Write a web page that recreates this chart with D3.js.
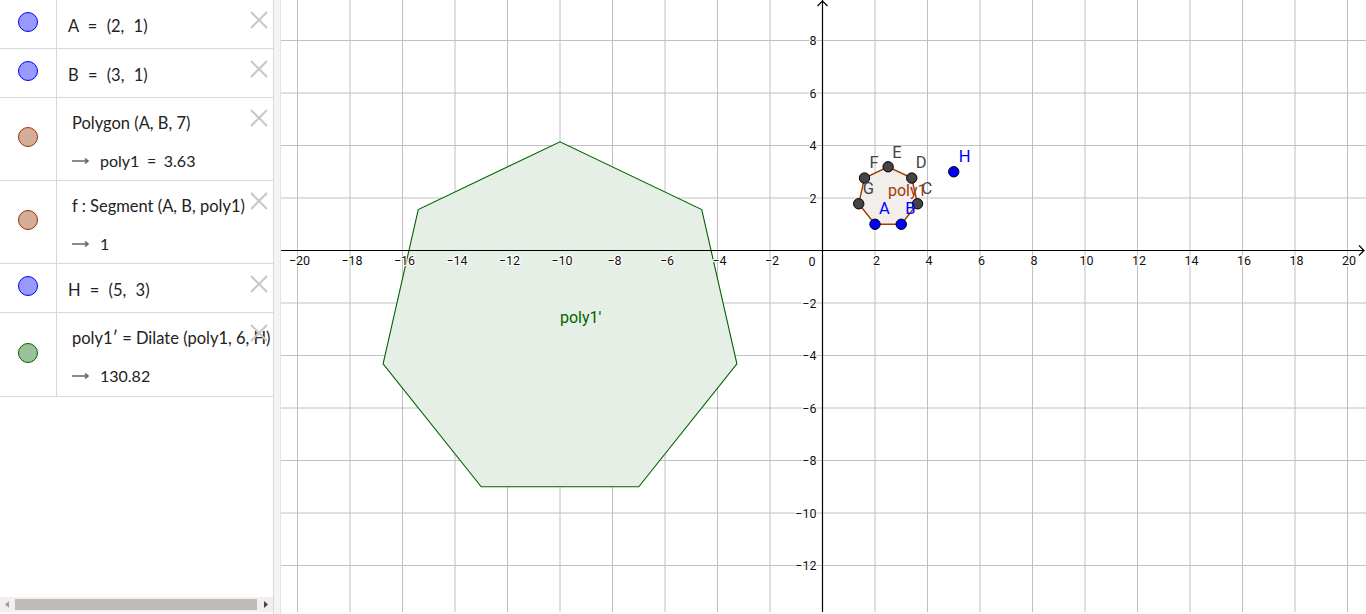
<!DOCTYPE html>
<html>
<head>
<meta charset="utf-8">
<title>Dilate</title>
<script src="https://cdn.jsdelivr.net/npm/d3@7"></script>
<style>
	html, body { margin: 0; padding: 0; background: #fff; overflow: hidden; }
	svg { display: block; }
	text { font-family: Lato, "Noto Sans", sans-serif; }
	.axis text { font-family: Roboto, sans-serif; font-size: 12.5px; fill: #111; }
	.axis path { display: none; }
	.axis line { display: none; }
	.grid path { display: none; }
	.grid line { stroke: #c0c0c0; stroke-width: 1px; }
	.row text { font-size: 16.5px; fill: #222; }
</style>
</head>
<body>
<svg id="chart" width="1366" height="614"></svg>
<script>
/* global d3 */

var pointNames = ['A', 'B', 'C', 'D', 'E', 'F', 'G'];
var pointX = [2, 3, 3.62, 3.4, 2.5, 1.6, 1.38];
var pointY = [1, 1, 1.78, 2.76, 3.19, 2.76, 1.78];
var imageX = [-13, -7, -3.26, -4.6, -10, -15.4, -16.74];
var imageY = [-9, -9, -4.32, 1.56, 4.14, 1.56, -4.32];
var centerX = [5];
var centerY = [3];

// tick labels
var xTicks = [-20, -18, -16, -14, -12, -10, -8, -6, -4, -2, 2, 4, 6, 8, 10, 12, 14, 16, 18, 20];
var yTicks = [-12, -10, -8, -6, -4, -2, 2, 4, 6, 8];

// the algebra panel
var rowLines = [
	['A = (2, 1)'],
	['B = (3, 1)'],
	['Polygon (A, B, 7)', 'poly1 = 3.63'],
	['f : Segment (A, B, poly1)', '1'],
	['H = (5, 3)'],
	['poly1\u2032 = Dilate (poly1, 6, H)', '130.82']
];
var rowKinds = ['point', 'point', 'poly', 'poly', 'point', 'image'];
var rowBottoms = [48, 97, 180, 263, 312, 396];

var colors = {
	point: { fill: '#9999ff', stroke: '#0000ff' },
	poly: { fill: '#d6ad99', stroke: '#993300' },
	image: { fill: '#99c299', stroke: '#006400' }
};

var svg = d3.select('#chart');

// scales: one unit is 26.25px, origin sits at 822.5,250.5
var x = d3.scaleLinear().domain([-20, 20]).range([297.5, 1347.5]);
var y = d3.scaleLinear().domain([-12, 8]).range([565.5, 40.5]);

var viewLeft = 281;
var viewRight = 1366;
var viewTop = 0;
var viewBottom = 612;

function drawGrid() {
	svg.append('g')
		.attr('class', 'grid')
		.attr('transform', 'translate(-0.5,' + viewBottom + ')')
		.call(d3.axisBottom(x).tickValues(xTicks).tickSize(-(viewBottom - viewTop)).tickFormat(''));

	svg.append('g')
		.attr('class', 'grid')
		.attr('transform', 'translate(' + viewLeft + ',-0.5)')
		.call(d3.axisLeft(y).tickValues(yTicks).tickSize(-(viewRight - viewLeft)).tickFormat(''));
}

function drawAxes() {
	var x0 = x(0);
	var y0 = y(0);

	// tick labels first, with a white halo over the grid
	var xAxis = svg.append('g')
		.attr('class', 'axis')
		.attr('transform', 'translate(0,' + y0 + ')')
		.call(d3.axisBottom(x).tickValues(xTicks).tickSize(0).tickPadding(6).tickFormat(d3.format('d')));
	xAxis.selectAll('text').attr('dx', function(d) { return d < 0 ? 1.5 : 1; });

	var yAxis = svg.append('g')
		.attr('class', 'axis')
		.attr('transform', 'translate(' + x0 + ',0)')
		.call(d3.axisLeft(y).tickValues(yTicks).tickSize(0).tickPadding(6).tickFormat(d3.format('d')));

	svg.append('text')
		.attr('x', x0 - 7)
		.attr('y', y0 + 15)
		.attr('text-anchor', 'end')
		.style('font-family', 'Roboto, sans-serif')
		.style('font-size', '12.5px')
		.style('fill', '#111')
		.text('0');

	svg.selectAll('.axis text')
		.style('paint-order', 'stroke')
		.style('stroke', '#fff')
		.style('stroke-width', '2px');

	var line = d3.line();
	var axisGroup = svg.append('g')
		.attr('fill', 'none')
		.attr('stroke', '#000')
		.attr('stroke-width', 1.2);

	axisGroup.append('path').attr('d', line([[viewLeft, y0], [viewRight - 2, y0]]));
	axisGroup.append('path').attr('d', line([[x0, viewTop], [x0, viewBottom]]));
	// arrow heads
	axisGroup.append('path').attr('d', line([[viewRight - 7, y0 - 5], [viewRight - 2, y0], [viewRight - 7, y0 + 5]]));
	axisGroup.append('path').attr('d', line([[x0 - 5, viewTop + 6], [x0, viewTop + 1], [x0 + 5, viewTop + 6]]));
}

function drawPolygon(xs, ys, fill, stroke, width) {
	var coords = xs.map(function(d, i) { return [x(d), y(ys[i])]; });
	svg.append('path')
		.attr('d', d3.line()(coords) + 'Z')
		.attr('fill', fill)
		.attr('stroke', stroke)
		.attr('stroke-width', width);
}

function drawPoints() {
	var dots = pointNames.map(function(name, i) {
		return { x: pointX[i], y: pointY[i], free: i < 2 };
	});
	dots.push({ x: centerX[0], y: centerY[0], free: true });

	svg.append('g').selectAll('circle')
		.data(dots)
		.join('circle')
		.attr('cx', function(d) { return x(d.x); })
		.attr('cy', function(d) { return y(d.y); })
		.attr('r', 5.2)
		.attr('fill', function(d) { return d.free ? '#0000ff' : '#444'; })
		.attr('stroke', '#000')
		.attr('stroke-width', 1);
}

function drawLabels() {
	// label offsets from each point, in pixels
	var offX = [4, 4, 4, 4, 4, 5, 4, 5];
	var offY = [-10, -10, -10, -10, -9, -10, -10, -10];
	var allNames = pointNames.concat(['H']);
	var allX = pointX.concat(centerX);
	var allY = pointY.concat(centerY);

	svg.append('g').selectAll('text')
		.data(allNames)
		.join('text')
		.attr('x', function(d, i) { return x(allX[i]) + offX[i]; })
		.attr('y', function(d, i) { return y(allY[i]) + offY[i]; })
		.attr('fill', function(d, i) { return (i < 2 || d === 'H') ? '#0000ff' : '#444'; })
		.style('font-family', 'Roboto, sans-serif')
		.style('font-size', '16.5px')
		.text(function(d) { return d; });

	svg.append('text')
		.attr('x', 888)
		.attr('y', 196)
		.attr('fill', '#a33c00')
		.style('font-family', 'Roboto, sans-serif')
		.style('font-size', '16px')
		.text('poly1');

	svg.append('text')
		.attr('x', 560)
		.attr('y', 323)
		.attr('fill', '#006400')
		.style('font-family', 'Roboto, sans-serif')
		.style('font-size', '16px')
		.text('poly1\u2032');
}

function drawPanel() {
	var panel = svg.append('g');
	var panelWidth = 273;

	// background and the divider next to the graphics view
	panel.append('rect').attr('width', panelWidth).attr('height', 614).attr('fill', '#fff');
	panel.append('rect').attr('x', panelWidth).attr('width', 8).attr('height', 614).attr('fill', '#f4f4f4');
	panel.append('path').attr('d', 'M273.5,0V614').attr('stroke', '#d8d8d8');
	panel.append('path').attr('d', 'M280.5,0V614').attr('stroke', '#e4e4e4');

	var rows = rowLines.map(function(lines, i) {
		return {
			index: i,
			lines: lines,
			kind: rowKinds[i],
			top: i === 0 ? 0 : rowBottoms[i - 1],
			bottom: rowBottoms[i]
		};
	});

	var row = panel.selectAll('.row')
		.data(rows)
		.join('g')
		.attr('class', 'row');

	row.append('path')
		.attr('d', function(d) { return 'M0,' + (d.bottom + 0.5) + 'H273'; })
		.attr('stroke', '#d8d8d8');

	row.append('path')
		.attr('d', function(d) { return 'M56.5,' + d.top + 'V' + d.bottom; })
		.attr('stroke', '#d8d8d8');

	row.append('circle')
		.attr('cx', 28)
		.attr('cy', function(d) {
			if (d.lines.length > 1) return d.top + (d.kind === 'image' ? 41 : 40);
			return d.top + (d.index === 0 ? 22 : 23);
		})
		.attr('r', 9.5)
		.attr('fill', function(d) { return colors[d.kind].fill; })
		.attr('stroke', function(d) { return colors[d.kind].stroke; })
		.attr('stroke-width', 1);

	// first line of the definition, the plain "x = (a, b)" rows are set wide
	row.append('text')
		.attr('x', function(d) { return d.lines.length > 1 ? 72 : 68; })
		.attr('y', function(d) { return d.top + (d.lines.length > 1 || d.index === 0 ? 32 : 33); })
		.style('word-spacing', function(d) { return d.lines.length > 1 ? '0px' : '5px'; })
		.text(function(d) { return d.lines[0]; });

	// result line with its arrow
	var two = row.filter(function(d) { return d.lines.length > 1; });

	two.append('text')
		.attr('x', 100)
		.attr('y', function(d) { return d.top + 70; })
		.style('word-spacing', '3.5px')
		.style('font-size', '16px')
		.text(function(d) { return d.lines[1]; });

	two.append('path')
		.attr('d', function(d) {
			var yy = d.top + 64;
			return 'M72,' + yy + 'H88M85,' + (yy - 2.5) + 'L88,' + yy + 'L85,' + (yy + 2.5);
		})
		.attr('fill', 'none')
		.attr('stroke', '#666')
		.attr('stroke-width', 1.6);

	// delete crosses
	row.append('path')
		.attr('d', function(d) {
			var cx = 259, cy = d.top + (d.index === 0 ? 20 : 21);
			return 'M' + (cx - 8) + ',' + (cy - 8) + 'L' + (cx + 8) + ',' + (cy + 8) +
				'M' + (cx + 8) + ',' + (cy - 8) + 'L' + (cx - 8) + ',' + (cy + 8);
		})
		.attr('stroke', '#c8c8c8')
		.attr('stroke-width', 2);

	// scrollbar
	panel.append('rect').attr('y', 597).attr('width', 273).attr('height', 15).attr('fill', '#f3efee');
	panel.append('rect').attr('x', 15).attr('y', 599).attr('width', 242).attr('height', 11).attr('fill', '#bdbab8');
	panel.append('path').attr('d', 'M9,601V608L5,604.5Z').attr('fill', '#a0a0a0');
	panel.append('path').attr('d', 'M264,601V608L268,604.5Z').attr('fill', '#444');
}

// start it up
function init() {
	drawGrid();
	drawPolygon(imageX, imageY, '#e5efe5', '#006400', 1.1);
	drawPolygon(pointX, pointY, '#f2eeec', '#a33c00', 1.4);
	drawAxes();
	drawPoints();
	drawLabels();
	drawPanel();
}

init();
</script>
</body>
</html>
